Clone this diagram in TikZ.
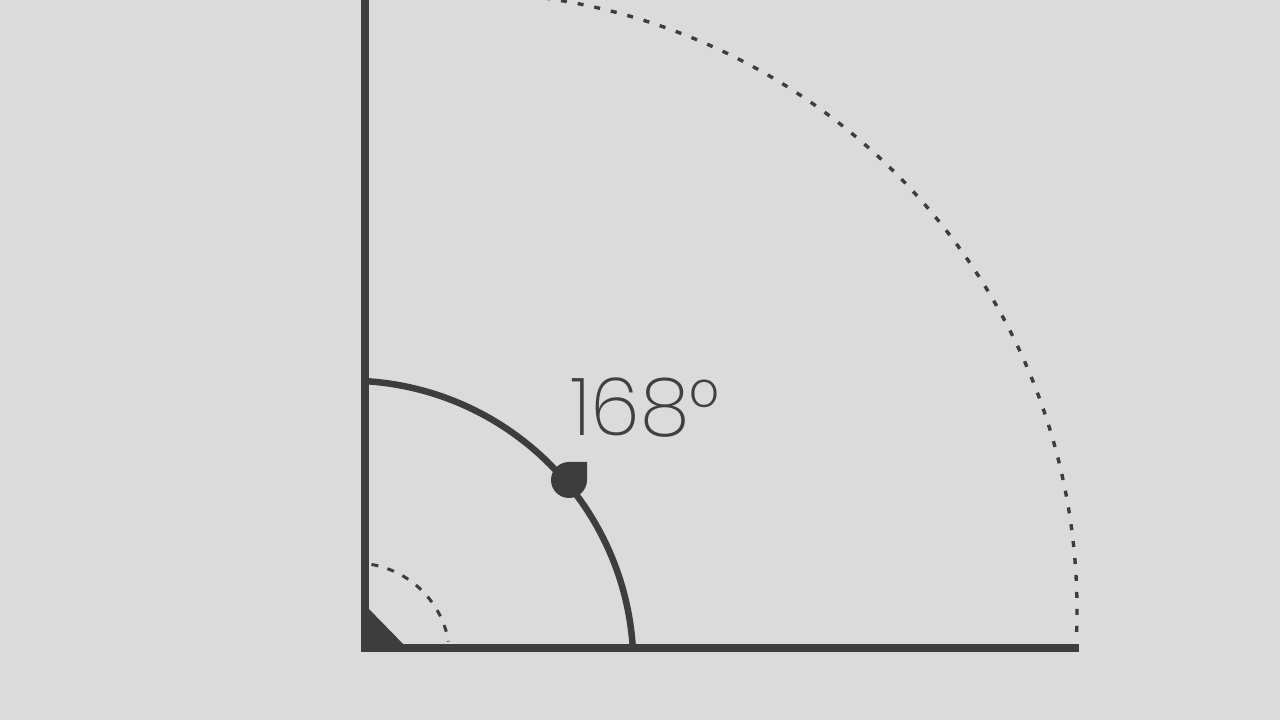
\documentclass[tikz,border=0pt]{standalone}
\usepackage{fontspec}
\newfontfamily\numfont{Poppins ExtraLight}
\definecolor{bg}{HTML}{DBDBDB}
\definecolor{ink}{HTML}{3D3D3D}
\definecolor{txt}{HTML}{404040}
\tikzset{
  frameline/.style={draw=ink, line width=8.5pt, line cap=butt, line join=miter},
  mainarc/.style={draw=ink, line width=6.5pt, line cap=butt},
  bigdots/.style={draw=ink, line width=3.4pt, dash pattern=on 6pt off 11pt},
  smalldash/.style={draw=ink, line width=3pt, dash pattern=on 7pt off 9.5pt},
}
\begin{document}
\begin{tikzpicture}[x=1pt,y=1pt]
\useasboundingbox (0,0) rectangle (1280,720);
\fill[bg] (0,0) rectangle (1280,720);
\begin{scope}
\clip (0,0) rectangle (1280,720);
% large dotted arc
\path[bigdots] (458,109) ++(-1.94:619) arc[start angle=-1.94, end angle=88, radius=619];
% frame
\path[frameline] (365,730) -- (365,72) -- (1079,72);
% corner triangle
\fill[ink] (365,115) -- (365,72) -- (407,72) -- cycle;
% small dashed arc
\path[smalldash] (355,62) ++(80:95) arc[start angle=80, end angle=10, radius=95];
% main arc
\path[mainarc] (348,54) ++(86.5:285.4) arc[start angle=86.5, end angle=3.5, radius=285.4];
% knob
\fill[ink] (587,258) -- (587,240) arc[start angle=0, end angle=-270, radius=18] -- cycle;
\end{scope}
\node (lbl) [anchor=base west, inner sep=0pt, text=txt, font=\numfont\fontsize{80}{80}\selectfont] at (570,284) {168°};
\end{tikzpicture}
\end{document}
